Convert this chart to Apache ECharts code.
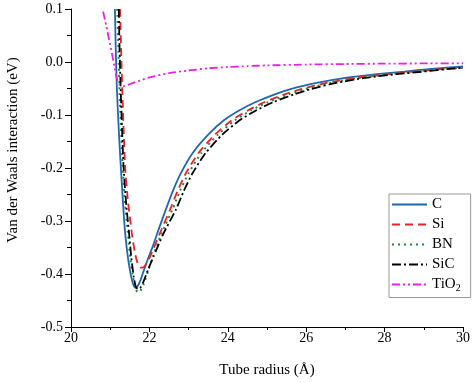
<!DOCTYPE html>
<html>
<head>
<meta charset="utf-8">
<script src="https://cdn.jsdelivr.net/npm/echarts@6/dist/echarts.min.js"></script>
<style>html,body{margin:0;padding:0;background:#fff;}#c{width:474px;height:383px;}</style>
</head>
<body>
<div id="c"></div>
<script>
// Tube radius (Å) and Van der Waals interaction (eV)
const seriesNames = ['C', 'Si', 'BN', 'SiC', 'TiO2'];
const dataC = [[21.12,0.1],[21.14,0.03],[21.17,-0.05],[21.22,-0.13],[21.27,-0.197],[21.33,-0.27],[21.38,-0.322],[21.44,-0.362],[21.49,-0.387],[21.55,-0.41],[21.6,-0.422],[21.64,-0.426],[21.69,-0.424],[21.76,-0.414],[21.85,-0.395],[21.95,-0.374],[22.1,-0.345],[22.25,-0.313],[22.42,-0.278],[22.6,-0.243],[22.8,-0.21],[23.1,-0.172],[23.5,-0.137],[23.9,-0.110],[24.3,-0.091],[24.7,-0.076],[25.2,-0.061],[25.6,-0.051],[26.3,-0.039],[27.0,-0.030],[27.8,-0.023],[28.5,-0.018],[29.2,-0.013],[30,-0.0085]];
const dataSi = [[21.25,0.1],[21.28,0.02],[21.32,-0.08],[21.38,-0.197],[21.45,-0.26],[21.55,-0.322],[21.63,-0.36],[21.7,-0.38],[21.76,-0.387],[21.83,-0.388],[21.89,-0.384],[22.0,-0.37],[22.1,-0.353],[22.31,-0.316],[22.53,-0.278],[22.72,-0.243],[22.93,-0.21],[23.25,-0.172],[23.67,-0.137],[24.1,-0.110],[24.52,-0.091],[24.93,-0.076],[25.45,-0.061],[25.87,-0.051],[26.55,-0.039],[27.25,-0.030],[28.05,-0.023],[28.75,-0.018],[29.45,-0.0135],[30,-0.0105]];
const dataBN = [[21.18,0.1],[21.21,0.02],[21.25,-0.08],[21.32,-0.197],[21.38,-0.27],[21.45,-0.322],[21.51,-0.37],[21.57,-0.40],[21.63,-0.424],[21.7,-0.434],[21.76,-0.433],[21.85,-0.42],[21.97,-0.393],[22.1,-0.365],[22.3,-0.325],[22.59,-0.278],[22.78,-0.243],[23.0,-0.21],[23.32,-0.172],[23.75,-0.137],[24.18,-0.110],[24.6,-0.091],[25.02,-0.076],[25.55,-0.061],[25.97,-0.051],[26.65,-0.039],[27.35,-0.030],[28.15,-0.023],[28.85,-0.018],[29.55,-0.0135],[30,-0.011]];
const dataSiC = [[21.22,0.1],[21.24,0.02],[21.28,-0.08],[21.34,-0.197],[21.41,-0.27],[21.48,-0.322],[21.54,-0.37],[21.6,-0.405],[21.65,-0.423],[21.7,-0.428],[21.76,-0.427],[21.83,-0.418],[21.97,-0.391],[22.1,-0.368],[22.35,-0.325],[22.68,-0.278],[22.88,-0.243],[23.1,-0.21],[23.43,-0.172],[23.86,-0.137],[24.3,-0.110],[24.73,-0.091],[25.15,-0.076],[25.7,-0.061],[26.12,-0.051],[26.8,-0.039],[27.5,-0.030],[28.3,-0.023],[29.0,-0.018],[29.7,-0.0125],[30,-0.011]];
const dataTiO2 = [[20.82,0.095],[20.9,0.068],[20.97,0.043],[21.05,0.014],[21.12,-0.014],[21.18,-0.034],[21.25,-0.044],[21.33,-0.046],[21.45,-0.043],[21.6,-0.039],[21.8,-0.034],[22.0,-0.029],[22.5,-0.021],[23.0,-0.016],[23.5,-0.012],[24.0,-0.0095],[24.5,-0.0078],[25.0,-0.0064],[26.0,-0.0048],[27.0,-0.0038],[28.0,-0.0031],[29.0,-0.0027],[30,-0.0024]];
const xTicks = [20, 22, 24, 26, 28, 30];
const yTicks = [-0.5, -0.4, -0.3, -0.2, -0.1, 0.0, 0.1];

const FONT = 'Liberation Serif';
const chart = echarts.init(document.getElementById('c'), null, {renderer: 'canvas'});
const mk = (name, data, color, type, width) => ({
  name, type: 'line', data, showSymbol: false, symbol: 'none',
  smooth: 0.2,
  lineStyle: {color, type, width}, itemStyle: {color}
});
chart.setOption({
  animation: false,
  backgroundColor: '#fff',
  grid: {left: 71, right: 11, top: 9, bottom: 55, containLabel: false},
  xAxis: {
    type: 'value', min: xTicks[0], max: xTicks[xTicks.length - 1], interval: 2,
    axisLine: {show: true, onZero: false, lineStyle: {color: '#000', width: 1}},
    axisTick: {show: true, length: 5, lineStyle: {color: '#000'}},
    minorTick: {show: true, splitNumber: 2, length: 3, lineStyle: {color: '#000'}},
    splitLine: {show: false},
    axisLabel: {color: '#000', fontFamily: FONT, fontSize: 14, margin: 4},
    name: 'Tube radius (Å)', nameLocation: 'middle', nameGap: 36,
    nameTextStyle: {color: '#000', fontFamily: FONT, fontSize: 15}
  },
  yAxis: {
    type: 'value', min: yTicks[0], max: yTicks[yTicks.length - 1], interval: 0.1,
    axisLine: {show: true, onZero: false, lineStyle: {color: '#000', width: 1}},
    axisTick: {show: true, length: 6, lineStyle: {color: '#000'}},
    minorTick: {show: true, splitNumber: 2, length: 4, lineStyle: {color: '#000'}},
    splitLine: {show: false},
    axisLabel: {color: '#000', fontFamily: FONT, fontSize: 14, margin: 8,
      formatter: v => (Math.abs(v) < 1e-9 ? 0 : v).toFixed(1)}
  },
  graphic: [{
    type: 'text', x: 13, y: 150, rotation: Math.PI / 2,
    style: {text: 'Van der Waals interaction (eV)', fontFamily: FONT, fontSize: 15,
      fill: '#000', align: 'center', verticalAlign: 'middle'}
  }],
  legend: {
    orient: 'vertical', left: 389, top: 194, width: 82,
    padding: [3, 10, 4, 2], itemGap: 5, itemWidth: 35, itemHeight: 14,
    borderColor: '#999', borderWidth: 1, backgroundColor: '#fff',
    itemStyle: {opacity: 0},
    textStyle: {color: '#000', fontFamily: FONT, fontSize: 15,
      rich: {sub: {fontFamily: FONT, fontSize: 10, verticalAlign: 'bottom', padding: [8, 0, 0, 0]}}},
    formatter: n => n === 'TiO2' ? 'TiO{sub|2}' : n,
    data: seriesNames
  },
  series: [
    mk('C', dataC, '#2068b0', 'solid', 1.8),
    mk('Si', dataSi, '#e8232b', [8, 5], 1.8),
    mk('BN', dataBN, '#238a33', [2, 4], 2),
    mk('SiC', dataSiC, '#000000', [9, 3, 2, 3], 1.8),
    mk('TiO2', dataTiO2, '#ee1ee8', [8, 3, 2, 3, 2, 3], 1.8)
  ]
});
</script>
</body>
</html>
